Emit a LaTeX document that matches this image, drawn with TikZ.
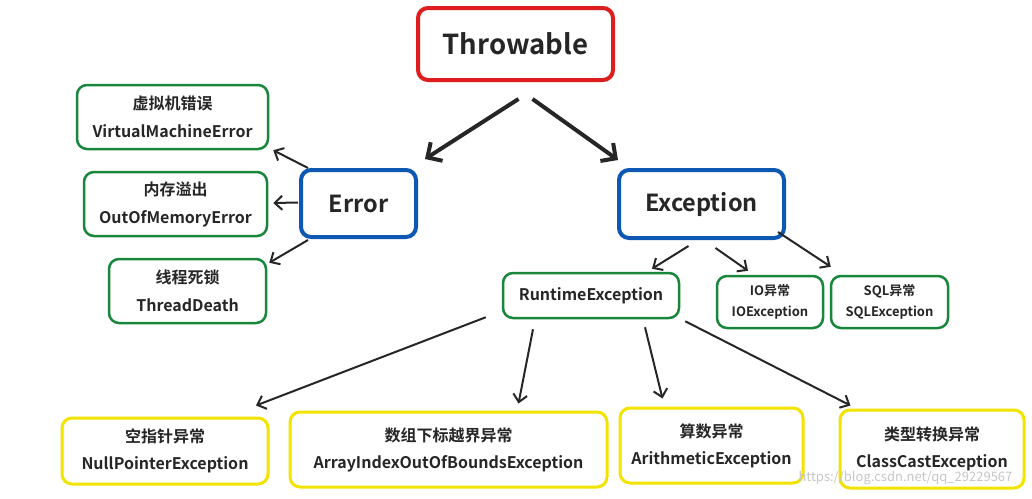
\documentclass[tikz,border=0pt]{standalone}
\usepackage{fontspec}
\setmainfont{Noto Sans CJK SC}[BoldFont={Noto Sans CJK SC Bold}]
\usetikzlibrary{arrows.meta,calc}
\definecolor{cred}{RGB}{222,30,30}
\definecolor{cblue}{RGB}{12,88,178}
\definecolor{cgreen}{RGB}{24,135,60}
\definecolor{cyel}{RGB}{242,228,0}
\tikzset{
  box/.style={draw,rounded corners=10pt,inner sep=0pt,align=center,font=\bfseries,text=black!85},
  redbox/.style={box,draw=cred,line width=4pt,font=\bfseries\fontsize{27.5}{30}\selectfont},
  bluebox/.style={box,draw=cblue,line width=4pt,font=\bfseries\fontsize{23.5}{26}\selectfont},
  greenbox/.style={box,draw=cgreen,line width=2.5pt,font=\bfseries\fontsize{16}{28}\selectfont},
  smallbox/.style={box,draw=cgreen,line width=2.5pt,font=\bfseries\fontsize{13}{23}\selectfont},
  yelbox/.style={box,draw=cyel,line width=3pt,font=\bfseries\fontsize{16}{27}\selectfont},
  bigarr/.style={line width=4pt,draw=black!85,-{Straight Barb[length=11pt,width=22pt,line width=4pt]}},
  arr/.style={line width=2pt,draw=black!85,-{Straight Barb[length=7.5pt,width=14pt,line width=2pt]}},
}
\begin{document}
\begin{tikzpicture}[x=1pt,y=-1pt]
\useasboundingbox (0,0) rectangle (1032,498);
\fill[white] (0,0) rectangle (1032,498);
% nodes
\node[redbox,minimum width=195pt,minimum height=72pt] (thr) at (515.5,44) {Throwable};
\node[bluebox,minimum width=115pt,minimum height=67pt] (err) at (358.5,203.5) {Error};
\node[bluebox,minimum width=165pt,minimum height=68pt] (exc) at (701.5,204) {Exception};
\node[greenbox,minimum width=191pt,minimum height=64pt] (vme) at (172.5,117) {虚拟机错误\\VirtualMachineError};
\node[greenbox,minimum width=183pt,minimum height=64pt] (oom) at (175.5,204) {内存溢出\\OutOfMemoryError};
\node[greenbox,minimum width=157pt,minimum height=64pt] (td) at (187.5,291) {线程死锁\\ThreadDeath};
\node[greenbox,minimum width=176pt,minimum height=45pt] (rt) at (591,295.5) {RuntimeException};
\node[smallbox,minimum width=106pt,minimum height=52pt] (io) at (770,302) {\raisebox{-2pt}{IO异常}\\IOException};
\node[smallbox,minimum width=117pt,minimum height=52pt] (sql) at (889.5,302) {\raisebox{-2pt}{SQL异常}\\SQLException};
\node[yelbox,minimum width=206pt,minimum height=66pt] (np) at (165,451) {空指针异常\\NullPointerException};
\node[yelbox,minimum width=317pt,minimum height=75pt] (ai) at (448.5,449.5) {数组下标越界异常\\ArrayIndexOutOfBoundsException};
\node[yelbox,minimum width=183pt,minimum height=75pt] (ar) at (711.5,445.5) {算数异常\\ArithmeticException};
\node[yelbox,minimum width=184pt,minimum height=78pt] (cc) at (932,449) {类型转换异常\\ClassCastException};
% connectors
\draw[bigarr] ($(thr.south)+(3,17)$) -- ($(err.north east)+(7,-9)$);
\draw[bigarr] ($(thr.south)+(17,17)$) -- ($(exc.north west)+(1,-8)$);
\draw[arr] ($(err.north west)+(9,0)$) -- ($(vme.south east)+(4,0)$);
\draw[arr] ($(err.west)+(-1,-1)$) -- ($(oom.east)+(5,-1)$);
\draw[arr] ($(err.south west)+(9,1)$) -- ($(td.north east)+(2,5)$);
\draw[arr] ($(exc.south)+(-13,6)$) -- ($(rt.north)+(61,-3)$);
\draw[arr] ($(exc.south)+(14,8)$) -- ($(io.north)+(-22,-4)$);
\draw[arr] ($(exc.south east)+(-8,-8)$) -- ($(sql.north west)+(1,-8)$);
\draw[arr] ($(rt.south west)+(-16,-2)$) -- ($(np.north)+(91,-11)$);
\draw[arr] ($(rt.south)+(-58,10)$) -- ($(ai.north)+(70,-7)$);
\draw[arr] ($(rt.south)+(54,8)$) -- ($(ar.north)+(-49,-8)$);
\draw[arr] ($(rt.south east)+(5,2)$) -- ($(cc.north west)+(12,-3)$);
% watermark
\node[text=black!22,font=\fontsize{13}{15}\selectfont,anchor=west] (wm) at (795,478) {https://blog.csdn.net/qq\_29229567};
\end{tikzpicture}
\end{document}
